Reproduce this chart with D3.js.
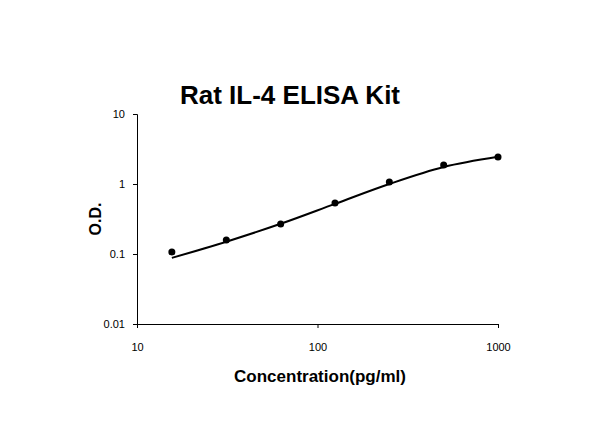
<!DOCTYPE html>
<html><head><meta charset="utf-8">
<script src="https://cdn.jsdelivr.net/npm/d3@7"></script>
<style>body{margin:0;background:#fff}text{font-family:Arial,"Liberation Sans",sans-serif}</style>
</head><body><div id="chart"></div>
<script>
const conc = [15.6, 31.25, 62.5, 125, 250, 500, 1000];
const od = [0.107, 0.158, 0.268, 0.535, 1.07, 1.87, 2.43];
const fitOd = [0.088, 0.15, 0.27, 0.52, 1.0, 1.75, 2.45];
const xTicks = [10, 100, 1000];
const yTicks = [0.01, 0.1, 1, 10];

const svg = d3.select("#chart").append("svg").attr("width", 600).attr("height", 447);
const x = d3.scaleLog().domain([10, 1000]).range([137, 498]);
const y = d3.scaleLog().domain([0.01, 10]).range([324, 114]);

svg.append("g").attr("transform", "translate(0,324)")
    .call(d3.axisBottom(x).tickValues(xTicks).tickFormat(d3.format("d")).tickSize(4).tickPadding(15))
    .call(g => g.selectAll("text").attr("font-size", 11).attr("fill", "#000"));
svg.append("g").attr("transform", "translate(137,0)")
    .call(d3.axisLeft(y).tickValues(yTicks).tickFormat(d => String(d)).tickSize(4).tickPadding(8))
    .call(g => g.selectAll("text").attr("font-size", 11).attr("fill", "#000"));

const line = d3.line().curve(d3.curveMonotoneX).x((d, i) => x(conc[i])).y(d => y(d));
svg.append("path").datum(fitOd).attr("d", line).attr("fill", "none")
    .attr("stroke", "#000").attr("stroke-width", 2);

svg.append("g").selectAll("circle").data(od).join("circle")
    .attr("cx", (d, i) => x(conc[i])).attr("cy", d => y(d)).attr("r", 3.5).attr("fill", "#000");

svg.append("text").attr("x", 290).attr("y", 104).attr("text-anchor", "middle")
    .attr("font-size", 26).attr("font-weight", "bold").text("Rat IL-4 ELISA Kit");
svg.append("text").attr("transform", "translate(101,219) rotate(-90)").attr("text-anchor", "middle")
    .attr("font-size", 16).attr("font-weight", "bold").text("O.D.");
svg.append("text").attr("x", 320).attr("y", 382).attr("text-anchor", "middle")
    .attr("font-size", 17).attr("font-weight", "bold").text("Concentration(pg/ml)");
</script></body></html>
